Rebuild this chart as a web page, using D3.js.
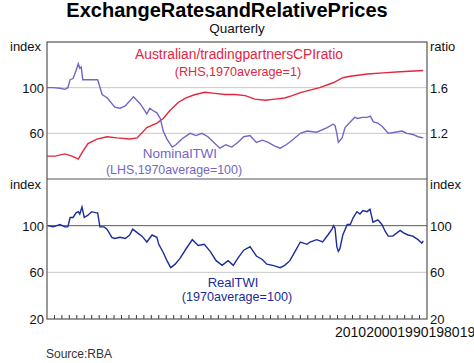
<!DOCTYPE html>
<html>
<head>
<meta charset="utf-8">
<script src="https://cdn.jsdelivr.net/npm/d3@7"></script>
<style>
  body { margin: 0; background: #fff; }
  svg text { font-family: "Liberation Sans", Arial, sans-serif; }
</style>
</head>
<body>
<div id="chart"></div>
<script>
// [year, index] nominal trade-weighted index, LHS
var nominalTwi = [
  [1970.0, 100], [1970.8, 100], [1971.75, 99.5], [1972.4, 98.5], [1972.8, 100],
  [1973.1, 107], [1973.5, 108], [1973.9, 115], [1974.2, 121], [1974.4, 117],
  [1974.6, 118], [1974.8, 107], [1976.8, 107], [1977.4, 94], [1978.1, 91],
  [1979.1, 83], [1979.8, 82], [1980.5, 84], [1981.6, 92], [1982.5, 86],
  [1983.4, 77], [1983.8, 82], [1984.2, 80], [1984.75, 78], [1985.2, 73],
  [1985.6, 62], [1986.1, 55], [1986.8, 48], [1987.3, 50], [1988.1, 55],
  [1989.2, 60], [1990.0, 58], [1990.8, 60], [1991.6, 57], [1992.4, 52],
  [1993.2, 47], [1994.0, 50], [1994.8, 48], [1995.6, 52], [1996.4, 57],
  [1997.25, 58], [1998.1, 52], [1998.9, 54], [1999.7, 52], [2000.5, 49],
  [2001.3, 47], [2002.1, 50], [2002.9, 54], [2004.0, 60], [2004.9, 62],
  [2006.2, 61], [2007.6, 65], [2008.4, 68], [2008.65, 67], [2008.9, 60],
  [2009.1, 52], [2009.6, 56], [2010.0, 65], [2010.7, 70], [2011.3, 74],
  [2011.7, 73], [2012.3, 74], [2012.95, 74], [2013.4, 75], [2013.8, 70],
  [2014.4, 69], [2015.0, 66], [2015.8, 60], [2016.7, 61], [2017.65, 62],
  [2018.3, 60], [2019.1, 59], [2019.8, 57], [2020.5, 56]
];

// [year, ratio] Australian / trading partners CPI, RHS
var cpiRatio = [
  [1970.0, 1.00], [1971.1, 1.00], [1972.4, 1.02], [1973.35, 1.00], [1974.2, 0.975],
  [1974.7, 1.03], [1975.5, 1.11], [1976.7, 1.15], [1978.05, 1.17], [1979.4, 1.16],
  [1981.1, 1.15], [1982.1, 1.16], [1983.4, 1.25], [1984.75, 1.29], [1985.6, 1.33],
  [1986.5, 1.40], [1987.6, 1.47], [1988.65, 1.51], [1989.9, 1.54], [1991.2, 1.56],
  [1992.55, 1.55], [1993.9, 1.54], [1995.2, 1.54], [1996.6, 1.53], [1997.9, 1.50],
  [1999.3, 1.49], [2000.6, 1.50], [2001.9, 1.51], [2002.9, 1.53], [2004.0, 1.557],
  [2006.6, 1.60], [2008.4, 1.643], [2009.7, 1.687], [2010.7, 1.70], [2013.0, 1.72],
  [2015.1, 1.73], [2017.4, 1.74], [2020.5, 1.75]
];

// [year, index] real trade-weighted index
var realTwi = [
  [1970.1, 100], [1970.8, 99], [1971.75, 101], [1972.4, 99], [1972.8, 99],
  [1973.1, 107], [1973.5, 107], [1973.9, 111], [1974.2, 112], [1974.4, 110],
  [1974.7, 116], [1975.0, 107], [1975.5, 109], [1976.0, 112], [1976.6, 111],
  [1976.8, 111], [1977.1, 99], [1977.65, 99], [1978.05, 97], [1978.7, 90],
  [1979.1, 89], [1979.8, 90], [1980.5, 89], [1981.1, 92], [1981.5, 97],
  [1982.1, 94], [1982.75, 91], [1983.4, 86], [1984.1, 92], [1984.75, 90],
  [1985.0, 84], [1985.6, 77], [1986.1, 70], [1986.6, 64], [1987.2, 67],
  [1987.85, 72], [1988.65, 80], [1989.5, 88], [1990.3, 83], [1991.1, 84],
  [1991.9, 78], [1992.7, 70], [1993.5, 66], [1994.3, 70], [1995.0, 66],
  [1995.6, 72], [1996.4, 79], [1997.25, 82], [1998.1, 74], [1998.9, 71],
  [1999.5, 67], [2000.3, 66], [2001.3, 64], [2001.9, 66], [2002.6, 70],
  [2003.3, 78], [2004.0, 86], [2004.9, 84], [2005.3, 86], [2006.2, 88],
  [2007.0, 86], [2007.7, 92], [2008.25, 97], [2008.45, 100], [2008.65, 98],
  [2008.9, 82], [2009.1, 78], [2009.3, 80], [2009.7, 92], [2010.3, 101],
  [2010.7, 101], [2011.1, 107], [2011.6, 112], [2012.0, 110], [2012.4, 113],
  [2012.95, 112], [2013.35, 114], [2013.75, 103], [2014.4, 105], [2014.95, 101],
  [2015.4, 95], [2015.8, 91], [2016.4, 91], [2017.4, 96], [2017.8, 94],
  [2018.45, 92], [2019.1, 91], [2019.8, 88], [2020.3, 85], [2020.5, 87]
];

var indexTicks = [60, 100];
var lowerTicks = [20, 60, 100];
var ratioTicks = [1.2, 1.6];
var yearLabels = ['2010', '2000', '1990', '1980', '1970'];

var RED = '#e3263f', PURPLE = '#7266c4', NAVY = '#1c2b9a';

var width = 474, height = 363;
var left = 47, right = 427, top1 = 42, mid = 179, bottom = 319;

var svg = d3.select('#chart').append('svg')
    .attr('width', width).attr('height', height);

var x = d3.scaleLinear().domain([1970, 2021]).range([left, right]);
var yTop = d3.scaleLinear().domain([20, 140]).range([mid, top1]);
var yRatio = d3.scaleLinear().domain([0.8, 2.0]).range([mid, top1]);
var yBot = d3.scaleLinear().domain([20, 140]).range([bottom, mid]);

// gridlines
svg.selectAll('line.gtop').data(indexTicks).enter().append('line')
    .attr('x1', left).attr('x2', right)
    .attr('y1', function(d) { return yTop(d); }).attr('y2', function(d) { return yTop(d); })
    .attr('stroke', '#c8c8c8').attr('stroke-width', 1);
svg.selectAll('line.gbot').data([60, 100]).enter().append('line')
    .attr('x1', left).attr('x2', right)
    .attr('y1', function(d) { return yBot(d); }).attr('y2', function(d) { return yBot(d); })
    .attr('stroke', function(d) { return d === 100 ? '#5a5a5a' : '#c8c8c8'; })
    .attr('stroke-width', 1);

// year ticks on bottom axis
var years = d3.range(1971, 2021);
svg.selectAll('line.tick').data(years).enter().append('line')
    .attr('x1', function(d) { return x(d); }).attr('x2', function(d) { return x(d); })
    .attr('y1', bottom).attr('y2', bottom - 4)
    .attr('stroke', '#333').attr('stroke-width', 1);

// lines
var lineTop = d3.line().x(function(d) { return x(d[0]); }).y(function(d) { return yTop(d[1]); });
var lineRatio = d3.line().x(function(d) { return x(d[0]); }).y(function(d) { return yRatio(d[1]); });
var lineBot = d3.line().x(function(d) { return x(d[0]); }).y(function(d) { return yBot(d[1]); });

svg.append('path').datum(cpiRatio).attr('d', lineRatio)
    .attr('fill', 'none').attr('stroke', RED).attr('stroke-width', 1.4);
svg.append('path').datum(nominalTwi).attr('d', lineTop)
    .attr('fill', 'none').attr('stroke', PURPLE).attr('stroke-width', 1.4);
svg.append('path').datum(realTwi).attr('d', lineBot)
    .attr('fill', 'none').attr('stroke', NAVY).attr('stroke-width', 1.4);

// frames
svg.append('rect').attr('x', left).attr('y', top1)
    .attr('width', right - left).attr('height', bottom - top1)
    .attr('fill', 'none').attr('stroke', '#555').attr('stroke-width', 1.2);
svg.append('line').attr('x1', left).attr('x2', right).attr('y1', mid).attr('y2', mid)
    .attr('stroke', '#555').attr('stroke-width', 1.2);

// axis labels
function label(txt, xx, yy, anchor, size, color, weight) {
    return svg.append('text').text(txt).attr('x', xx).attr('y', yy)
        .attr('text-anchor', anchor || 'start')
        .attr('font-size', size || 13)
        .attr('fill', color || '#111')
        .attr('font-weight', weight || 'normal');
}

svg.selectAll('text.lt').data(indexTicks).enter().append('text')
    .attr('x', left - 3).attr('y', function(d) { return yTop(d) + 5; })
    .attr('text-anchor', 'end').attr('font-size', 13).attr('fill', '#111')
    .text(function(d) { return d; });
svg.selectAll('text.rt').data(ratioTicks).enter().append('text')
    .attr('x', right + 3).attr('y', function(d) { return yRatio(d) + 5; })
    .attr('font-size', 13).attr('fill', '#111')
    .text(function(d) { return d.toFixed(1); });
svg.selectAll('text.lb').data(lowerTicks).enter().append('text')
    .attr('x', left - 3).attr('y', function(d) { return yBot(d) + 5; })
    .attr('text-anchor', 'end').attr('font-size', 13).attr('fill', '#111')
    .text(function(d) { return d; });
svg.selectAll('text.rb').data(lowerTicks).enter().append('text')
    .attr('x', right + 3).attr('y', function(d) { return yBot(d) + 5; })
    .attr('font-size', 13).attr('fill', '#111')
    .text(function(d) { return d; });

label('index', 10, 51);
label('ratio', 430, 51);
label('index', 10, 189);
label('index', 430, 189);

// year labels, crammed together at the right as in the source
var yl = svg.append('text').attr('x', 335).attr('y', 337)
    .attr('font-size', 14).attr('fill', '#111');
yl.selectAll('tspan').data(yearLabels).enter().append('tspan')
    .text(function(d) { return d; });

// titles
label('ExchangeRatesandRelativePrices', 227, 17, 'middle', 20, '#000', 'bold');
label('Quarterly', 237, 33, 'middle', 13.5);

// series labels
label('Australian/tradingpartnersCPIratio', 239, 59, 'middle', 13.8, RED);
label('(RHS,1970average=1)', 238, 76, 'middle', 12.6, RED);
label('NominalTWI', 180, 158, 'middle', 13.5, PURPLE);
label('(LHS,1970average=100)', 174, 174, 'middle', 12.4, PURPLE);
label('RealTWI', 233, 287, 'middle', 13, NAVY);
label('(1970average=100)', 237, 301, 'middle', 12.6, NAVY);

label('Source:RBA', 46, 358, 'start', 12, '#333');
</script>
</body>
</html>
